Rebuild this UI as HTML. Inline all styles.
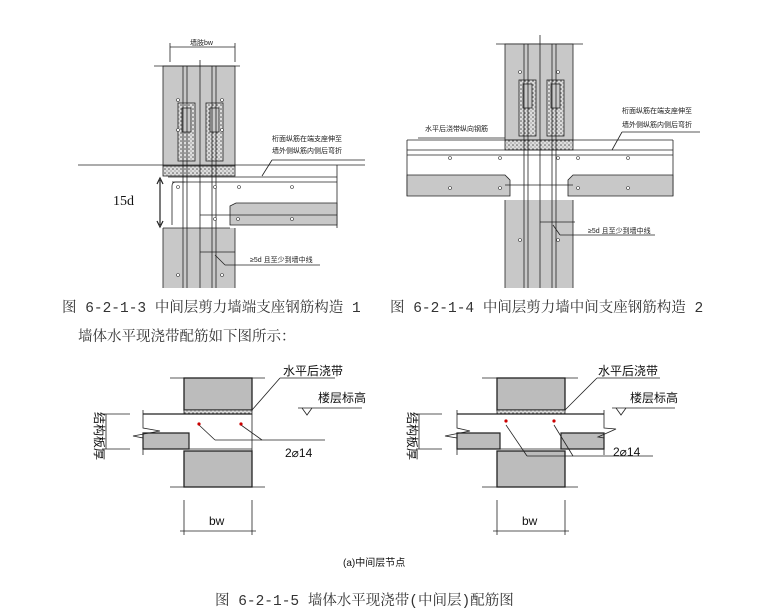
<!DOCTYPE html>
<html><head><meta charset="utf-8"><style>
html,body{margin:0;padding:0;background:#fff;}
svg{display:block;}
.cap{font-family:"Liberation Mono","Noto Serif CJK SC",serif;font-size:14.5px;fill:#333;}
.sm{font-family:"Liberation Sans","Noto Sans CJK SC",sans-serif;font-size:7px;fill:#222;}
.md{font-family:"Liberation Sans","Noto Sans CJK SC",sans-serif;font-size:12px;fill:#111;}
</style></head><body>
<svg width="760" height="615" viewBox="0 0 760 615" xmlns="http://www.w3.org/2000/svg">
<defs>
<pattern id="hat" width="4" height="4" patternUnits="userSpaceOnUse"><rect width="4" height="4" fill="#ddd"/><circle cx="1" cy="1" r="0.8" fill="#555"/><circle cx="3" cy="3" r="0.6" fill="#777"/></pattern>
</defs>
<g stroke="#222" stroke-width="0.8" fill="none">
<rect x="163" y="66" width="72" height="100" fill="#c8c8c8"/>
<rect x="163" y="228" width="72" height="60" fill="#c8c8c8" stroke="none"/>
<line x1="163" y1="228" x2="163" y2="288"/><line x1="235" y1="228" x2="235" y2="288"/>
<line x1="154" y1="66" x2="240" y2="66"/>
<line x1="170" y1="47" x2="235" y2="47"/><line x1="170" y1="43" x2="170" y2="62"/><line x1="235" y1="43" x2="235" y2="62"/>
<text class="sm" x="190" y="45" stroke="none">墙肢bw</text>
<rect x="178" y="103" width="17" height="58" fill="url(#hat)"/>
<rect x="206" y="103" width="17" height="58" fill="url(#hat)"/>
<rect x="182" y="108" width="9" height="24" fill="#c8c8c8"/>
<rect x="210" y="108" width="9" height="24" fill="#c8c8c8"/>
<rect x="163" y="166" width="72" height="10" fill="url(#hat)"/>
<line x1="183" y1="66" x2="183" y2="288"/><line x1="187" y1="66" x2="187" y2="288"/>
<line x1="200" y1="60" x2="200" y2="288"/>
<line x1="212" y1="66" x2="212" y2="288"/><line x1="216" y1="66" x2="216" y2="288"/>
<line x1="78" y1="165" x2="365" y2="165"/>
<line x1="168" y1="177" x2="337" y2="177"/><line x1="172" y1="182" x2="337" y2="182"/>
<path d="M185 182 H176 Q172 182 172 186 V225"/>
<line x1="337" y1="165" x2="337" y2="228"/>
<path d="M230 206 L236 203 H337 V225 H230 Z" fill="#c8c8c8"/>
<line x1="200" y1="215" x2="337" y2="215"/>
<line x1="163" y1="228" x2="230" y2="228"/>
<line x1="160" y1="180" x2="160" y2="225" stroke-width="1.2"/>
<path d="M157 184 L160 178 L163 184 M157 221 L160 227 L163 221" stroke-width="1.2"/>
<line x1="200" y1="252" x2="235" y2="252"/>
<line x1="215" y1="255" x2="225" y2="265"/><line x1="225" y1="265" x2="320" y2="265"/>
<line x1="272" y1="160" x2="365" y2="160"/><line x1="272" y1="160" x2="262" y2="176"/>
<line x1="496" y1="44" x2="583" y2="44"/>
<rect x="505" y="44" width="68" height="96" fill="#c8c8c8"/>
<rect x="505" y="200" width="68" height="88" fill="#c8c8c8" stroke="none"/>
<line x1="505" y1="200" x2="505" y2="288"/><line x1="573" y1="200" x2="573" y2="288"/>
<rect x="519" y="80" width="17" height="56" fill="url(#hat)"/>
<rect x="547" y="80" width="17" height="56" fill="url(#hat)"/>
<rect x="523" y="84" width="9" height="24" fill="#c8c8c8"/>
<rect x="551" y="84" width="9" height="24" fill="#c8c8c8"/>
<rect x="505" y="140" width="68" height="10" fill="url(#hat)"/>
<line x1="524" y1="44" x2="524" y2="288"/><line x1="528" y1="44" x2="528" y2="288"/>
<line x1="540" y1="35" x2="540" y2="288"/>
<line x1="552" y1="44" x2="552" y2="288"/><line x1="556" y1="44" x2="556" y2="288"/>
<line x1="407" y1="140" x2="673" y2="140"/>
<line x1="407" y1="150" x2="673" y2="150"/><line x1="407" y1="155" x2="673" y2="155"/>
<line x1="407" y1="140" x2="407" y2="196"/><line x1="673" y1="140" x2="673" y2="196"/>
<path d="M407 175 H505 L510 180 V196 H407 Z" fill="#c8c8c8"/>
<path d="M673 175 H573 L568 180 V196 H673 Z" fill="#c8c8c8"/>
<line x1="505" y1="185" x2="573" y2="185"/>
<line x1="540" y1="222" x2="575" y2="222"/>
<line x1="553" y1="225" x2="560" y2="235"/><line x1="560" y1="235" x2="655" y2="235"/>
<line x1="418" y1="138" x2="505" y2="138"/>
<line x1="622" y1="132" x2="700" y2="132"/><line x1="622" y1="132" x2="612" y2="150"/>
<rect x="184" y="378" width="68" height="32" fill="#bcbcbc" stroke-width="1.3"/>
<rect x="184" y="410" width="68" height="4" fill="url(#hat)"/>
<rect x="184" y="451" width="68" height="36" fill="#bcbcbc" stroke-width="1.3"/>
<line x1="170" y1="378" x2="265" y2="378"/><line x1="170" y1="487" x2="265" y2="487"/>
<line x1="143" y1="414" x2="252" y2="414" stroke-width="1.2"/>
<line x1="143" y1="449" x2="252" y2="449"/>
<line x1="252" y1="414" x2="252" y2="451"/>
<path d="M143 433 H189 V449 H143 Z" fill="#bcbcbc" stroke-width="1.2"/>
<path d="M143 410 V428 L160 431 L133 436 L143 438 V455" />
<line x1="102" y1="414" x2="130" y2="414"/><line x1="102" y1="449" x2="130" y2="449"/>
<line x1="106" y1="414" x2="106" y2="449"/>
<line x1="184" y1="500" x2="184" y2="535"/><line x1="252" y1="500" x2="252" y2="535"/>
<line x1="180" y1="531" x2="256" y2="531"/>
<line x1="199" y1="425" x2="215" y2="440"/><line x1="241" y1="425" x2="262" y2="440"/>
<line x1="215" y1="440" x2="325" y2="440"/>
<line x1="252" y1="410" x2="280" y2="378"/><line x1="280" y1="378" x2="335" y2="378"/>
<line x1="298" y1="408" x2="362" y2="408"/><path d="M302 408 L307 415 L312 408"/>
<rect x="497" y="378" width="68" height="32" fill="#bcbcbc" stroke-width="1.3"/>
<rect x="497" y="410" width="68" height="4" fill="url(#hat)"/>
<rect x="497" y="451" width="68" height="36" fill="#bcbcbc" stroke-width="1.3"/>
<line x1="482" y1="378" x2="578" y2="378"/><line x1="482" y1="487" x2="578" y2="487"/>
<line x1="457" y1="414" x2="604" y2="414" stroke-width="1.2"/>
<line x1="457" y1="449" x2="604" y2="449"/>
<path d="M457 433 H500 V449 H457 Z" fill="#bcbcbc" stroke-width="1.2"/>
<path d="M604 433 H561 V449 H604 Z" fill="#bcbcbc" stroke-width="1.2"/>
<path d="M457 410 V428 L470 431 L445 436 L457 438 V455"/>
<path d="M604 410 V428 L616 429 L598 437 L604 438 V455"/>
<line x1="416" y1="414" x2="442" y2="414"/><line x1="416" y1="449" x2="442" y2="449"/>
<line x1="419" y1="414" x2="419" y2="449"/>
<line x1="497" y1="500" x2="497" y2="535"/><line x1="565" y1="500" x2="565" y2="535"/>
<line x1="493" y1="531" x2="569" y2="531"/>
<line x1="506" y1="425" x2="527" y2="456"/><line x1="554" y1="425" x2="573" y2="456"/>
<line x1="527" y1="456" x2="653" y2="456"/>
<line x1="565" y1="410" x2="597" y2="378"/><line x1="597" y1="378" x2="660" y2="378"/>
<line x1="612" y1="408" x2="675" y2="408"/><path d="M616 408 L621 415 L626 408"/>
</g>
<g fill="#fff" stroke="#333" stroke-width="0.6">
<circle cx="178" cy="187" r="1.5"/><circle cx="215" cy="187" r="1.5"/><circle cx="239" cy="187" r="1.5"/><circle cx="292" cy="187" r="1.5"/>
<circle cx="238" cy="219" r="1.5"/><circle cx="292" cy="219" r="1.5"/><circle cx="215" cy="219" r="1.5"/>
<circle cx="178" cy="130" r="1.5"/><circle cx="222" cy="130" r="1.5"/><circle cx="178" cy="100" r="1.5"/><circle cx="222" cy="100" r="1.5"/><circle cx="178" cy="275" r="1.5"/><circle cx="222" cy="275" r="1.5"/>
<circle cx="450" cy="158" r="1.5"/><circle cx="500" cy="158" r="1.5"/><circle cx="558" cy="158" r="1.5"/><circle cx="578" cy="158" r="1.5"/><circle cx="628" cy="158" r="1.5"/>
<circle cx="450" cy="188" r="1.5"/><circle cx="500" cy="188" r="1.5"/><circle cx="578" cy="188" r="1.5"/><circle cx="628" cy="188" r="1.5"/>
<circle cx="520" cy="72" r="1.5"/><circle cx="558" cy="72" r="1.5"/><circle cx="520" cy="240" r="1.5"/><circle cx="558" cy="240" r="1.5"/>
</g>
<g fill="#c00"><circle cx="199" cy="424" r="1.6"/><circle cx="241" cy="424" r="1.6"/><circle cx="506" cy="421" r="1.6"/><circle cx="554" cy="421" r="1.6"/></g>
<text x="113" y="205" font-family="Liberation Serif,serif" font-size="14" fill="#111">15d</text>
<text class="sm" x="272" y="141">桁面纵筋在端支座伸至</text>
<text class="sm" x="272" y="153">墙外侧纵筋内侧后弯折</text>
<text class="sm" x="250" y="262">≥5d 且至少到墙中线</text>
<text class="sm" x="425" y="131">水平后浇带纵向钢筋</text>
<text class="sm" x="622" y="113">桁面纵筋在端支座伸至</text>
<text class="sm" x="622" y="127">墙外侧纵筋内侧后弯折</text>
<text class="sm" x="588" y="233">≥5d 且至少到墙中线</text>
<text class="cap" x="62" y="312">图 6-2-1-3 中间层剪力墙端支座钢筋构造 1</text>
<text class="cap" x="390" y="312">图 6-2-1-4 中间层剪力墙中间支座钢筋构造 2</text>
<text class="cap" x="78" y="341">墙体水平现浇带配筋如下图所示：</text>
<text class="md" x="283" y="375">水平后浇带</text>
<text class="md" x="318" y="402">楼层标高</text>
<text class="md" x="285" y="457">2⌀14</text>
<text class="md" x="209" y="525">bw</text>
<text class="md" x="598" y="375">水平后浇带</text>
<text class="md" x="630" y="402">楼层标高</text>
<text class="md" x="613" y="456">2⌀14</text>
<text class="md" x="522" y="525">bw</text>
<text class="md" transform="translate(95,412) rotate(90)">结构板厚</text>
<text class="md" transform="translate(408,412) rotate(90)">结构板厚</text>
<text x="343" y="566" font-family="Liberation Sans,Noto Sans CJK SC,sans-serif" font-size="10" fill="#111">(a)中间层节点</text>
<text class="cap" x="215" y="605">图 6-2-1-5 墙体水平现浇带(中间层)配筋图</text>
</svg>
</body></html>
